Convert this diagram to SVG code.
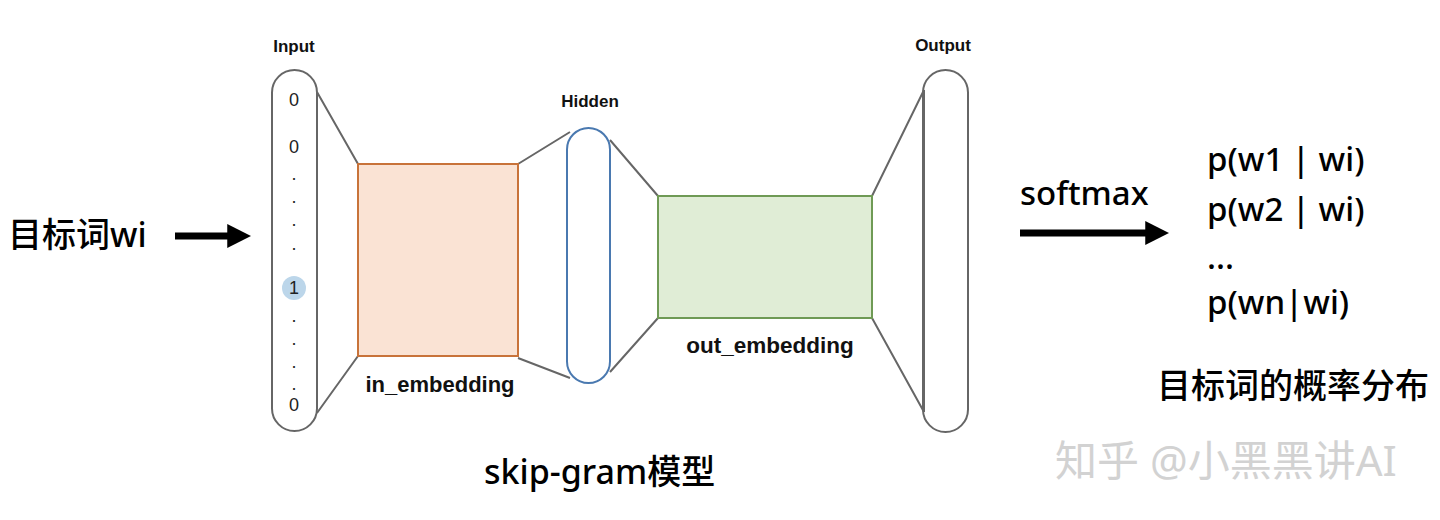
<svg xmlns="http://www.w3.org/2000/svg" width="1440" height="520" viewBox="0 0 1440 520">
<style>
.t{font-family:"Liberation Sans",Arial,sans-serif;font-weight:bold;fill:#111}
.n{font-family:"Liberation Sans",Arial,sans-serif;font-size:18px;fill:#222;text-anchor:middle}
.b{font-family:"Noto Sans","Noto Sans CJK SC",sans-serif;font-weight:500;fill:#000}
.c{stroke:#666;stroke-width:2;fill:none}
.cap{fill:#fff;stroke:#666;stroke-width:2}
</style>
<defs><marker id="ah" viewBox="0 0 10 10" refX="2" refY="5" markerWidth="3.4" markerHeight="4" orient="auto" markerUnits="strokeWidth"><path d="M0,0L10,5L0,10z" fill="#000"/></marker></defs>
<rect width="1440" height="520" fill="#fff"/>
<g id="connectors">
<path class="c" d="M317,92L358,164M317,413L358,356M518,164L570,132M518,358L570,378M610,140L658,196M610,372L658,318M872,196L924,90M872,318L924,412"/>
<line x1="175" y1="236" x2="232" y2="236" stroke="#000" stroke-width="7" marker-end="url(#ah)"/>
<line x1="1020" y1="233" x2="1150" y2="233" stroke="#000" stroke-width="7" marker-end="url(#ah)"/>
</g>
<g id="input">
<rect class="cap" x="272" y="70" width="45" height="361" rx="22.5"/>
<text class="t" x="294" y="52" font-size="17" text-anchor="middle">Input</text>
<circle cx="294" cy="288" r="12" fill="#bcd6ea"/>
<text class="n" x="294" y="106">0</text><text class="n" x="294" y="153">0</text>
<text class="n" x="294" y="180">.</text><text class="n" x="294" y="203">.</text><text class="n" x="294" y="226">.</text><text class="n" x="294" y="250">.</text>
<text class="n" x="294" y="294">1</text>
<text class="n" x="294" y="322">.</text><text class="n" x="294" y="345">.</text><text class="n" x="294" y="368">.</text><text class="n" x="294" y="390">.</text>
<text class="n" x="294" y="411">0</text>
</g>
<g id="in_embedding">
<rect x="358" y="164" width="160" height="192" fill="#fae3d4" stroke="#c8733a" stroke-width="2"/>
<text class="t" x="440" y="392" font-size="22" text-anchor="middle">in_embedding</text>
</g>
<g id="hidden">
<rect x="567" y="128" width="43" height="255" rx="21.5" fill="#fff" stroke="#4a79b0" stroke-width="2"/>
<text class="t" x="590" y="107" font-size="17" text-anchor="middle">Hidden</text>
</g>
<g id="out_embedding">
<rect x="658" y="196" width="214" height="122" fill="#e0edd6" stroke="#6f9a55" stroke-width="2"/>
<text class="t" x="770" y="353" font-size="22.5" text-anchor="middle">out_embedding</text>
</g>
<g id="output">
<rect class="cap" x="923" y="70" width="45" height="362" rx="22.5"/>
<line class="c" x1="924" y1="90" x2="924" y2="412"/>
<text class="t" x="943" y="51" font-size="17" text-anchor="middle">Output</text>
</g>
<g id="labels">
<text class="b" x="8" y="247" font-size="34">目标词wi</text>
<text class="b" x="1020" y="205" font-size="33">softmax</text>
<text class="b" x="1207" y="171" font-size="33">p(w1 | wi)</text>
<text class="b" x="1207" y="221" font-size="33">p(w2 | wi)</text>
<text class="b" x="1207" y="269" font-size="33">...</text>
<text class="b" x="1207" y="314" font-size="33">p(wn|wi)</text>
<text class="b" x="1157" y="398" font-size="34">目标词的概率分布</text>
<text class="b" x="484" y="484" font-size="34">skip-gram模型</text>
<text x="1055" y="476" font-size="42" font-family="Noto Sans,Noto Sans CJK SC,sans-serif" fill="#d2d2d2">知乎 @小黑黑讲AI</text>
</g>
</svg>
